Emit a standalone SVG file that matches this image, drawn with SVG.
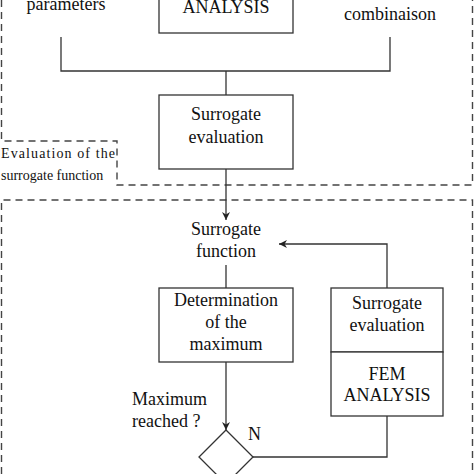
<svg xmlns="http://www.w3.org/2000/svg" width="474" height="474" viewBox="0 0 474 474">
<style>
text{font-family:"Liberation Serif","Times New Roman",serif;fill:#111;font-size:18px}
.c{text-anchor:middle}
.s{font-size:14px}
.box{fill:#fff;stroke:#333;stroke-width:1.3}
.ln{fill:none;stroke:#333;stroke-width:1.3}
.dash{fill:none;stroke:#444;stroke-width:1.4;stroke-dasharray:7 5}
</style>
<defs>
<marker id="ah" viewBox="0 0 10 10" refX="10" refY="5" markerWidth="8" markerHeight="8" markerUnits="userSpaceOnUse" orient="auto">
<path d="M0,0 L10,5 L0,10 L3,5 Z" fill="#222"/>
</marker>
</defs>
<g id="frames">
<path class="dash" d="M1.5,0 V141 H117 V185 H472.5 V0"/>
<path class="dash" d="M1.5,474 V200 H472.5 V474"/>
</g>
<g id="connectors">
<path class="ln" d="M61,37 V71 H390 V37"/>
<path class="ln" d="M226,71 V95"/>
<path class="ln" d="M226,169 V220" marker-end="url(#ah)"/>
<path class="ln" d="M226,265 V288"/>
<path class="ln" d="M387,288 V244 H279" marker-end="url(#ah)"/>
<path class="ln" d="M226,362 V430" marker-end="url(#ah)"/>
<path class="ln" d="M253,457 H387 V416"/>
</g>
<g id="parameters"><text x="66" y="10" class="c">parameters</text></g>
<g id="combinaison"><text x="390" y="20" class="c">combinaison</text></g>
<g id="fem-top">
<rect class="box" x="159" y="-20" width="134" height="53"/>
<text x="226" y="13" class="c">ANALYSIS</text>
</g>
<g id="surrogate-eval-top">
<rect class="box" x="159" y="95" width="134" height="74"/>
<text x="226" y="120" class="c">Surrogate</text>
<text x="226" y="143" class="c">evaluation</text>
</g>
<g id="eval-label">
<text x="1" y="158" class="s" textLength="114" lengthAdjust="spacing">Evaluation of the</text>
<text x="1" y="180" class="s">surrogate function</text>
</g>
<g id="surrogate-function">
<text x="226" y="235" class="c">Surrogate</text>
<text x="226" y="257" class="c">function</text>
</g>
<g id="determination">
<rect class="box" x="159" y="288" width="134" height="74"/>
<text x="226" y="306" class="c">Determination</text>
<text x="226" y="328" class="c">of the</text>
<text x="226" y="350" class="c">maximum</text>
</g>
<g id="surrogate-eval-bottom">
<rect class="box" x="331" y="288" width="112" height="64"/>
<text x="387" y="309" class="c">Surrogate</text>
<text x="387" y="331" class="c">evaluation</text>
</g>
<g id="fem-bottom">
<rect class="box" x="331" y="352" width="112" height="64"/>
<text x="387" y="380" class="c">FEM</text>
<text x="387" y="401" class="c">ANALYSIS</text>
</g>
<g id="decision">
<path class="box" d="M226,430 L253,457 L226,484 L199,457 Z"/>
<text x="132" y="405">Maximum</text>
<text x="132" y="427">reached ?</text>
<text x="248" y="440">N</text>
</g>
</svg>
